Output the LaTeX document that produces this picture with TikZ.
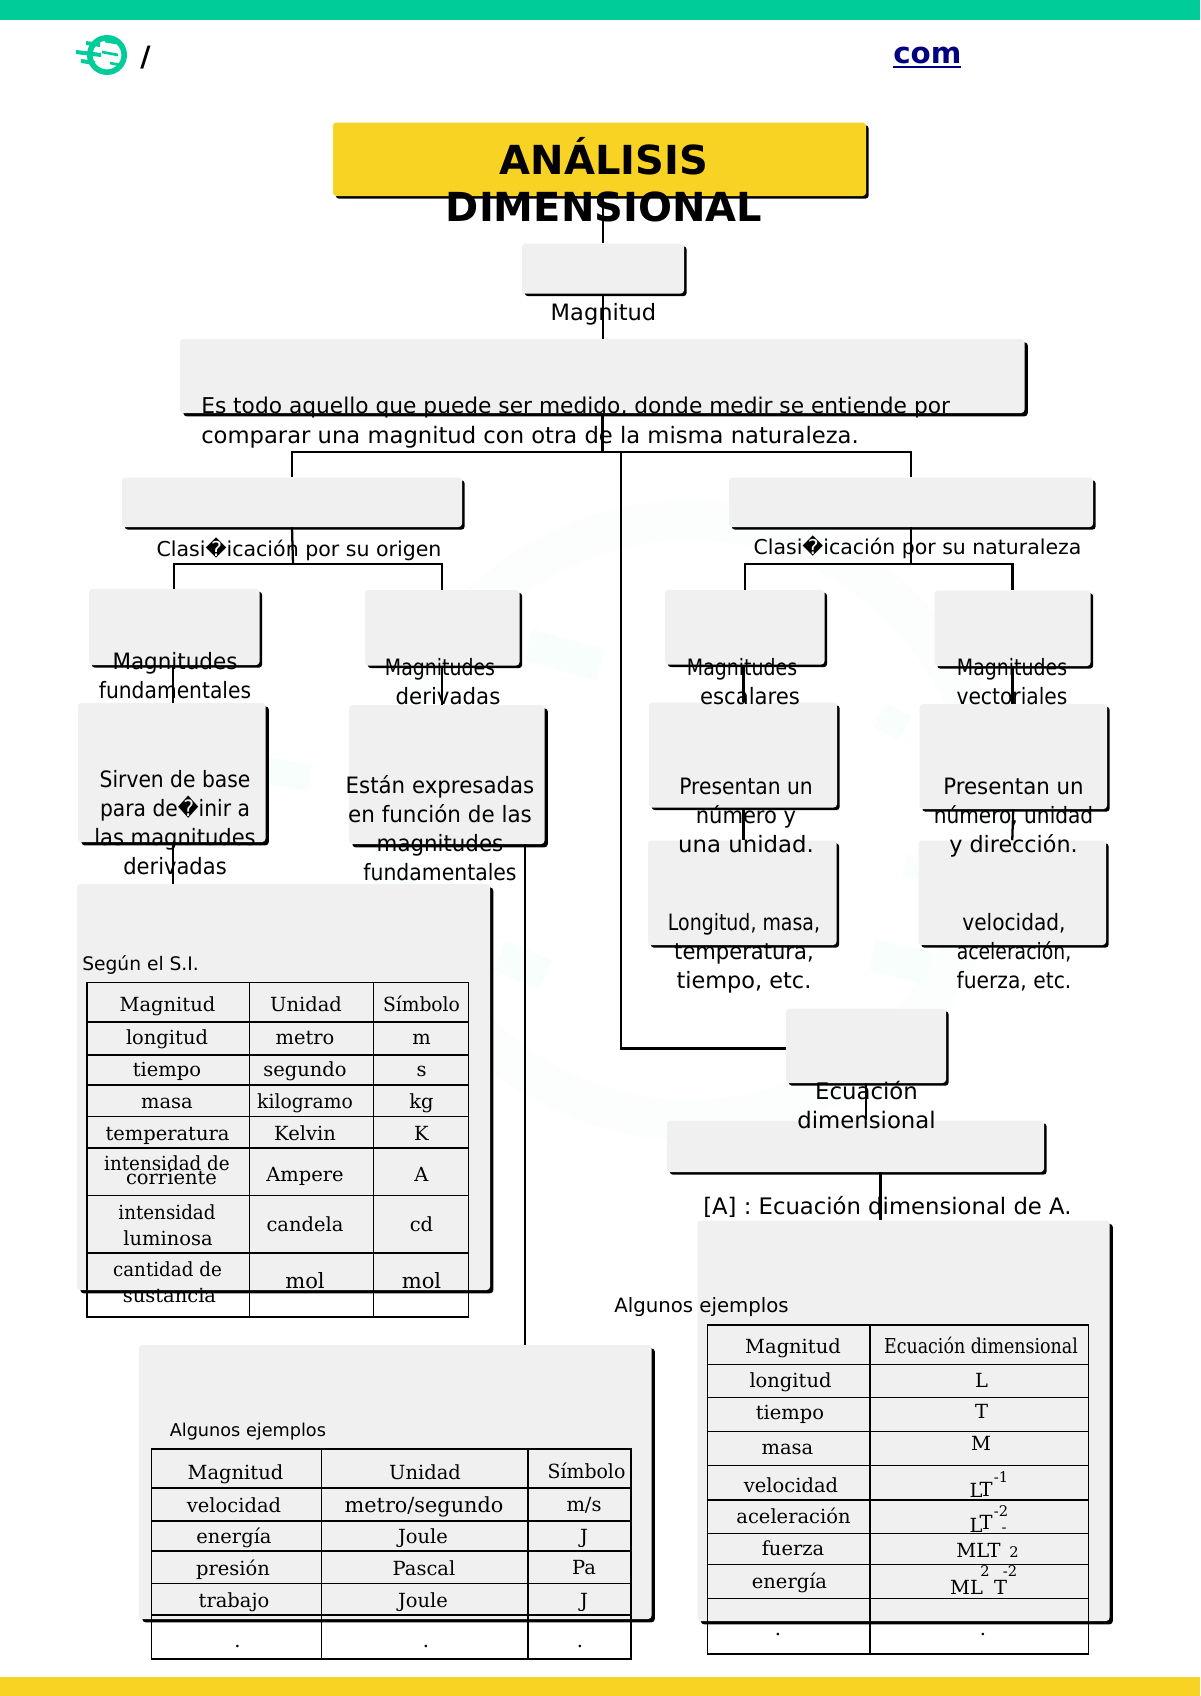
\documentclass[tikz,border=0pt]{standalone}
\usepackage{fontspec}
\usepackage{graphicx}
\setmainfont{DejaVu Sans}
\newfontfamily\celdafont{DejaVu Serif}
\usetikzlibrary{fit,shadows}
\definecolor{verdebar}{HTML}{00CC99}
\definecolor{amarillo}{HTML}{F8D323}
\definecolor{gris}{HTML}{F0F0F0}
\definecolor{marca}{HTML}{FCFEFD}
\definecolor{marcados}{HTML}{F8FEFB}
\newcommand{\lsz}[1]{\fontsize{#1}{21.6pt}\selectfont}
\newcommand{\lin}[2]{\pgfmathsetmacro\factorlin{#1/16.9}\scalebox{\factorlin}[1]{\lsz{16.9}#2}}
\tikzset{
    caja/.style={fill=gris,rounded corners=2.5pt,inner sep=0pt,general shadow={fill=black,shadow xshift=2pt,shadow yshift=-2pt}},
    cajagrande/.style={fill=gris,rounded corners=2.5pt,inner sep=0pt,general shadow={fill=black,shadow xshift=2.5pt,shadow yshift=-2.5pt}},
    conector/.style={line width=1.7pt},
    tabla/.style={line width=0.85pt,line cap=rect},
    texto/.style={anchor=base,inner sep=0pt,align=center,font=\lsz{16}},
    textoizq/.style={anchor=base west,inner sep=0pt},
    celda/.style={anchor=base,inner sep=0pt,font=\celdafont\fontsize{14.6}{16}\selectfont},
    supind/.style={anchor=base,inner sep=0pt,font=\celdafont\fontsize{11}{13}\selectfont}
}
\begin{document}
\begin{tikzpicture}[line cap=butt,line join=miter,x=0.75pt,y=-0.75pt]
        \useasboundingbox (0,0) rectangle (1200,1696);
        \fill [color=white] (0,0) rectangle (1200,1696);
        \draw [line width=30pt,color=marca] (690,820) circle (300);
        \draw [line width=24pt,color=marcados] (528,645) -- (600,665);
        \draw [line width=20pt,color=marcados] (880,715) -- (905,728);
        \draw [line width=24pt,color=marcados] (872,955) -- (930,968);
        \draw [line width=24pt,color=marcados] (500,955) -- (545,975);
        \draw [line width=16pt,color=marcados] (905,865) -- (925,870);
        \draw [line width=20pt,color=marcados] (265,770) -- (310,778);
        \fill [color=verdebar] (0,0) rectangle (1200,19.5);
        \fill [color=amarillo] (0,1677) rectangle (1200,1696);
        \draw [line width=4.2pt,color=verdebar] (107,55) circle (17.2);
        \draw [line width=3pt,color=verdebar] (76,52) -- (101,55);
        \draw [line width=3pt,color=verdebar] (86,43) -- (100,45);
        \draw [line width=3pt,color=verdebar] (81,61) -- (95,63);
        \draw [line width=2pt,color=verdebar] (102,52) -- (118,55);
        \draw [line width=2pt,color=verdebar] (105,41) -- (116,43);
        \draw [line width=2pt,color=verdebar] (110,63) -- (120,65);
        \node [textoizq,font=\bfseries\fontsize{21}{25}\selectfont] (barra) at (140,66) {/};
        \node [textoizq,color=blue!50!black,font=\bfseries\fontsize{22}{26}\selectfont] (dominio) at (893,63.5) {\vtop{\hbox{com}\kern1.6pt\hrule height 1.8pt}};
        \node [caja,fill=amarillo,fit={(333,122.5) (866,196)}] (titulo) {};
        \node [caja,fit={(522,243.5) (684,293.5)}] (magnitud) {};
        \node [cajagrande,fit={(180,339) (1024.5,413)}] (definicion) {};
        \node [caja,fit={(122,477.5) (462,527)}] (origen) {};
        \node [caja,fit={(729,477.5) (1093,527)}] (naturaleza) {};
        \node [caja,fit={(89,589) (259.5,665)}] (fundamentales) {};
        \node [caja,fit={(365,590) (519.5,665.5)}] (derivadas) {};
        \node [caja,fit={(665,590) (824.5,664.5)}] (escalares) {};
        \node [caja,fit={(934.5,590.5) (1090.5,666)}] (vectoriales) {};
        \node [cajagrande,fit={(78,703) (265.5,842)}] (basefund) {};
        \node [cajagrande,fit={(349,705) (544.5,844)}] (basederiv) {};
        \node [caja,fit={(649,702.5) (837,807.5)}] (presesc) {};
        \node [caja,fit={(919.5,704) (1107,809)}] (presvec) {};
        \node [caja,fit={(648,840.5) (836.5,945)}] (ejemesc) {};
        \node [caja,fit={(918.5,840.5) (1106,945)}] (ejemvec) {};
        \node [cajagrande,fit={(77,884) (490,1290)}] (tablasi) {};
        \node [cajagrande,fit={(139,1345) (651.5,1619)}] (tabladeriv) {};
        \node [caja,fit={(786,1008.5) (946,1083)}] (ecuacion) {};
        \node [caja,fit={(667,1120.5) (1044,1172)}] (notacion) {};
        \node [cajagrande,fit={(697.5,1220.5) (1109.5,1621)}] (tablaecu) {};
        \coordinate (ramal) at (602.5,452);
        \coordinate (ramalecu) at (621,452);
        \coordinate (entradaecu) at (786,1048.5);
        \coordinate (ramalorigen) at (293,564);
        \coordinate (ramalnat) at (911,564);
        \draw [conector] (titulo.south -| magnitud.north) -- (magnitud.north);
        \draw [conector] (magnitud.south) -- (definicion.north -| magnitud.south);
        \draw [conector] (definicion.south -| ramal) -- (ramal);
        \draw [conector] (origen.north) |- (ramal);
        \draw [conector] (naturaleza.north) |- (ramal);
        \draw [conector] (ramalecu) |- (entradaecu);
        \draw [conector] (origen.south) -- (ramalorigen);
        \draw [conector] (naturaleza.south) -- (ramalnat);
        \draw [conector] (fundamentales.north) |- (derivadas.north |- ramalorigen) -- (derivadas.north);
        \draw [conector] (escalares.north) |- (vectoriales.north |- ramalnat) -- (vectoriales.north);
        \draw [conector] (173,665) -- (basefund.north -| 173,665);
        \draw [conector] (derivadas.south) -- (basederiv.north -| derivadas.south);
        \draw [conector] (743.5,664.5) -- (presesc.north -| 743.5,664.5);
        \draw [conector] (vectoriales.south) -- (presvec.north -| vectoriales.south);
        \draw [conector] (173,842) -- (tablasi.north -| 173,842);
        \draw [conector] (743.5,807.5) -- (ejemesc.north -| 743.5,807.5);
        \draw [conector] (presvec.south) -- (ejemvec.north);
        \draw [conector] (525,844) -- (tabladeriv.north -| 525,844);
        \draw [conector] (866,1083) -- (notacion.north -| 866,1083);
        \draw [conector] (880.5,1172) -- (tablaecu.north -| 880.5,1172);
        \node [texto,font=\bfseries\fontsize{30}{35.2}\selectfont] (titulotxt) at (604,221) {ANÁLISIS\\DIMENSIONAL};
        \node [texto,font=\lsz{16.9}] (magnitudtxt) at (603.5,320) {Magnitud};
        \node [textoizq,align=left,font=\fontsize{16.3}{22.3}\selectfont] (definiciontxt) at (201,443) {Es todo aquello que puede ser medido, donde medir se entiende por\\\fontsize{17}{22.3}\selectfont comparar una magnitud con otra de la misma naturaleza.};
        \node [texto,font=\lsz{15.4}] (origentxt) at (299,556) {Clasi�icación por su origen};
        \node [texto,font=\lsz{15.35}] (naturalezatxt) at (917.5,554) {Clasi�icación por su naturaleza};
        \node [texto] (fundamentalestxt) at (175,698) {\lin{16.1}{Magnitudes}\\\lin{15.2}{fundamentales}};
        \node [texto] (derivadastxt) at (440,704) {\lin{14.2}{Magnitudes}\\\hspace*{12pt}\lin{16}{derivadas}};
        \node [texto] (escalarestxt) at (742,704.5) {\lin{14.2}{Magnitudes}\\\hspace*{12pt}\lin{15.9}{escalares}};
        \node [texto] (vectorialestxt) at (1012,704.5) {\lin{14.2}{Magnitudes}\\\lin{15.2}{vectoriales}};
        \node [texto] (basefundtxt) at (175,874) {\lin{15.2}{Sirven de base}\\\lin{15.2}{para de�inir a}\\\lin{15.8}{las magnitudes}\\\lin{15.8}{derivadas}};
        \node [texto] (basederivtxt) at (440,880) {\lin{16}{Están expresadas}\\\lin{16.1}{en función de las}\\\lin{16}{magnitudes}\\\lin{15.3}{fundamentales}};
        \node [texto] (presesctxt) at (746,852) {\lin{15.2}{Presentan un}\\\lin{15.8}{número y}\\\lin{17.1}{una unidad.}};
        \node [texto] (presvectxt) at (1013.5,852) {\lin{16}{Presentan un}\\\lin{15.1}{número, unidad}\\\lin{16.7}{y dirección.}};
        \node [texto] (ejemesctxt) at (744,988) {\lin{14.2}{Longitud, masa,}\\\lin{15.8}{temperatura,}\\\lin{16.8}{tiempo, etc.}};
        \node [texto] (ejemvectxt) at (1014,988) {\lin{15.1}{velocidad,}\\\lin{14.1}{aceleración,}\\\lin{15.2}{fuerza, etc.}};
        \node [textoizq,font=\lsz{14}] (segunsi) at (82,970) {Según el S.I.};
        \node [texto,font=\lsz{17.1}] (ecuaciontxt) at (866.5,1128) {Ecuación\\dimensional};
        \node [textoizq,font=\lsz{17.05}] (notaciontxt) at (703,1214) {[A] : Ecuación dimensional de A.};
        \node [textoizq,font=\lsz{13.25}] (ejemderiv) at (169.5,1436) {Algunos ejemplos};
        \node [textoizq,font=\lsz{14.8}] (ejemecu) at (614,1312.5) {Algunos ejemplos};
        \draw [tabla] (87,982.5) rectangle (468.5,1317);
        \draw [tabla] (249.5,982.5) -- (249.5,1317);
        \draw [tabla] (373.5,982.5) -- (373.5,1317);
        \draw [tabla] (87,1022) -- (468.5,1022);
        \draw [tabla] (87,1055) -- (468.5,1055);
        \draw [tabla] (87,1085) -- (468.5,1085);
        \draw [tabla] (87,1116.5) -- (468.5,1116.5);
        \draw [tabla] (87,1148) -- (468.5,1148);
        \draw [tabla] (87,1195.5) -- (468.5,1195.5);
        \draw [tabla] (87,1253) -- (468.5,1253);
        \node [celda] (si11) at (167.5,1011) {Magnitud};
        \node [celda] (si12) at (306,1011) {Unidad};
        \node [celda] (si13) at (421.5,1011) {\scalebox{0.96}[1]{Símbolo}};
        \node [celda] (si21) at (167,1044) {longitud};
        \node [celda] (si22) at (305,1044) {metro};
        \node [celda] (si23) at (421.5,1044) {m};
        \node [celda] (si31) at (167,1076) {tiempo};
        \node [celda] (si32) at (305,1076) {segundo};
        \node [celda] (si33) at (421.5,1076) {s};
        \node [celda] (si41) at (167,1108) {masa};
        \node [celda] (si42) at (305,1108) {\scalebox{0.96}[1]{kilogramo}};
        \node [celda] (si43) at (421.5,1108) {kg};
        \node [celda] (si51) at (167.5,1140) {temperatura};
        \node [celda] (si52) at (305,1140) {Kelvin};
        \node [celda] (si53) at (421.5,1140) {K};
        \node [celda] (si61) at (167,1170.5) {\scalebox{0.94}[1]{intensidad de}};
        \node [celda] (si61b) at (171.5,1184.5) {corriente};
        \node [celda] (si62) at (305,1181) {Ampere};
        \node [celda] (si63) at (421.5,1181) {A};
        \node [celda] (si71) at (167,1219) {\scalebox{0.94}[1]{intensidad}};
        \node [celda] (si71b) at (168,1245) {luminosa};
        \node [celda] (si72) at (305,1231) {candela};
        \node [celda] (si73) at (421.5,1231) {cd};
        \node [celda] (si81) at (167.5,1276.5) {\scalebox{0.94}[1]{cantidad de}};
        \node [celda] (si81b) at (169.5,1302) {sustancia};
        \node [celda,font=\celdafont\fontsize{15.8}{17}\selectfont] (si82) at (305,1288) {mol};
        \node [celda,font=\celdafont\fontsize{15.8}{17}\selectfont] (si83) at (421.5,1288) {mol};
        \draw [tabla] (151.5,1449) rectangle (631,1659);
        \draw [tabla] (321.5,1449) -- (321.5,1659);
        \draw [tabla] (528,1449) -- (528,1659);
        \draw [tabla] (151.5,1488) -- (631,1488);
        \draw [tabla] (151.5,1521) -- (631,1521);
        \draw [tabla] (151.5,1551) -- (631,1551);
        \draw [tabla] (151.5,1583.5) -- (631,1583.5);
        \draw [tabla] (151.5,1615) -- (631,1615);
        \node [celda] (de11) at (235.5,1479) {Magnitud};
        \node [celda] (de12) at (425,1479) {Unidad};
        \node [celda] (de13) at (586.5,1478) {\scalebox{0.97}[1]{Símbolo}};
        \node [celda] (de21) at (234,1512) {velocidad};
        \node [celda,font=\celdafont\fontsize{15.6}{17}\selectfont] (de22) at (424,1512) {metro/segundo};
        \node [celda] (de23) at (584,1511) {m/s};
        \node [celda] (de31) at (234,1543) {energía};
        \node [celda] (de32) at (423,1543) {Joule};
        \node [celda] (de33) at (584,1543) {J};
        \node [celda] (de41) at (233,1575.5) {presión};
        \node [celda] (de42) at (424,1575.5) {Pascal};
        \node [celda] (de43) at (584,1574.5) {Pa};
        \node [celda] (de51) at (234,1607.5) {trabajo};
        \node [celda] (de52) at (423,1607.5) {Joule};
        \node [celda] (de53) at (584,1607.5) {J};
        \node [celda] (de61) at (237.5,1647) {.};
        \node [celda] (de62) at (426,1647) {.};
        \node [celda] (de63) at (580,1647) {.};
        \draw [tabla] (707.5,1325) rectangle (1088.5,1654);
        \draw [tabla] (870,1325) -- (870,1654);
        \draw [tabla] (707.5,1364.5) -- (1088.5,1364.5);
        \draw [tabla] (707.5,1397.5) -- (1088.5,1397.5);
        \draw [tabla] (707.5,1431.5) -- (1088.5,1431.5);
        \draw [tabla] (707.5,1465.5) -- (1088.5,1465.5);
        \draw [tabla] (707.5,1500) -- (1088.5,1500);
        \draw [tabla] (707.5,1533.5) -- (1088.5,1533.5);
        \draw [tabla] (707.5,1564.5) -- (1088.5,1564.5);
        \draw [tabla] (707.5,1598.5) -- (1088.5,1598.5);
        \node [celda] (ec11) at (793,1353.5) {Magnitud};
        \node [celda,font=\celdafont\fontsize{15.4}{17}\selectfont] (ec12) at (981,1353.5) {\scalebox{0.85}[1]{Ecuación dimensional}};
        \node [celda] (ec21) at (790.5,1387.5) {longitud};
        \node [celda] (ec22) at (981.5,1387.5) {L};
        \node [celda] (ec31) at (790,1419) {tiempo};
        \node [celda] (ec32) at (981.5,1418) {T};
        \node [celda] (ec41) at (787.5,1454) {masa};
        \node [celda] (ec42) at (981,1450.5) {M};
        \node [celda] (ec51) at (791,1492.5) {velocidad};
        \node [celda] (ec52) at (976,1497.5) {L};
        \node [celda] (ec53) at (986,1496) {T};
        \node [supind] (ec54) at (1001,1482.5) {-1};
        \node [celda] (ec61) at (793.5,1523.5) {aceleración};
        \node [celda] (ec62) at (976,1532) {L};
        \node [celda] (ec63) at (986,1529.5) {T};
        \node [supind] (ec64) at (1001,1516.5) {-2};
        \node [supind] (ec65) at (1004,1532) {-};
        \node [celda] (ec71) at (793,1555.5) {fuerza};
        \node [celda] (ec72) at (978.5,1557.5) {MLT};
        \node [supind] (ec73) at (1014,1557.5) {2};
        \node [celda] (ec81) at (789.5,1588.5) {energía};
        \node [celda] (ec82) at (966.5,1594.5) {ML};
        \node [celda] (ec83) at (1000.5,1594.5) {T};
        \node [supind] (ec84) at (985,1576) {2};
        \node [supind] (ec85) at (1010,1576) {-2};
        \node [celda] (ec91) at (778,1635) {.};
        \node [celda] (ec92) at (983,1635) {.};
\end{tikzpicture}
\end{document}
